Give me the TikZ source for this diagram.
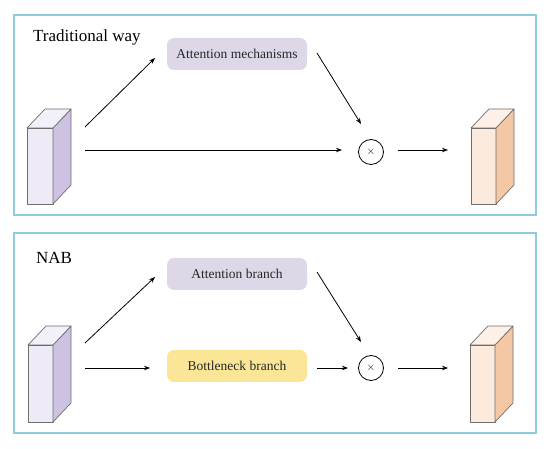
\documentclass[tikz,border=0pt]{standalone}
\usepackage{fontspec}
\setmainfont{Liberation Serif}
\usetikzlibrary{arrows.meta}
\definecolor{framec}{RGB}{140,205,220}
\definecolor{lavbox}{RGB}{222,215,232}
\definecolor{yelbox}{RGB}{250,230,150}
\definecolor{cubeLf}{RGB}{238,235,246}
\definecolor{cubeLs}{RGB}{205,194,225}
\definecolor{cubeLt}{RGB}{242,240,248}
\definecolor{cubeRf}{RGB}{252,234,220}
\definecolor{cubeRs}{RGB}{245,200,165}
\definecolor{cubeRt}{RGB}{253,240,230}
\definecolor{edgec}{RGB}{110,110,110}
\tikzset{
  panel/.style={draw=framec,line width=1.2pt},
  boxnode/.style={rounded corners=7pt,minimum width=140pt,minimum height=32pt,inner sep=0pt,font=\fontsize{13.5}{15}\selectfont,text=black!85},
  multnode/.style={circle,draw,line width=0.8pt,minimum size=25pt,inner sep=0pt,font=\fontsize{11}{12}\selectfont},
  arr/.style={line width=0.8pt,-{Stealth[length=6pt,width=4.5pt]}},
  titletext/.style={font=\fontsize{17}{19}\selectfont,anchor=west,inner sep=0pt},
  cubeedge/.style={draw=edgec,line width=0.7pt,line join=round}
}
\newcommand{\mycube}[7]{% x0 y0 x1 y1 front side top
  \filldraw[cubeedge,fill=#5] (#1,#2) rectangle (#3,#4);
  \filldraw[cubeedge,fill=#6] (#3,#2) -- ++(18,-19) -- ++(0,#4-#2) -- (#3,#4) -- cycle;
  \filldraw[cubeedge,fill=#7] (#1,#2) -- ++(18,-19) -- ++(#3-#1,0) -- (#3,#2) -- cycle;
}
\begin{document}
\begin{tikzpicture}[x=1pt,y=-1pt]
\useasboundingbox (0,0) rectangle (550,449);
% panels
\draw[panel] (14,15) rectangle (536,215);
\draw[panel] (14,233) rectangle (536,433);
\node[titletext] (t1) at (33,37) {Traditional way};
\node[titletext] (t2) at (36,258) {NAB};
% cubes
\mycube{27}{128}{53}{204}{cubeLf}{cubeLs}{cubeLt}
\mycube{471}{128}{496}{204}{cubeRf}{cubeRs}{cubeRt}
\mycube{28}{345}{53}{422}{cubeLf}{cubeLs}{cubeLt}
\mycube{470}{345}{495}{422}{cubeRf}{cubeRs}{cubeRt}
% top panel
\node[boxnode,fill=lavbox] (att1) at (237,54) {Attention mechanisms};
\node[multnode] (m1) at (371,152) {$\times$};
\coordinate (in1a) at (85,127);
\coordinate (in1b) at (85,150);
\coordinate (a1e) at (155,58);
\coordinate (a1o) at (317,53);
\coordinate (m1in) at (342,150);
\coordinate (m1top) at (361,124);
\coordinate (m1out) at (398,150);
\coordinate (out1) at (448,150);
\draw[arr] (in1a) -- (a1e);
\draw[arr] (in1b) -- (m1in);
\draw[arr] (a1o) -- (m1top);
\draw[arr] (m1out) -- (out1);
% bottom panel
\node[boxnode,fill=lavbox] (att2) at (237,274) {Attention branch};
\node[boxnode,fill=yelbox] (bot2) at (237,366) {Bottleneck branch};
\node[multnode] (m2) at (371,368) {$\times$};
\coordinate (in2a) at (85,343);
\coordinate (in2b) at (85,368);
\coordinate (a2e) at (155,277);
\coordinate (b2e) at (150,368);
\coordinate (b2o) at (317,368);
\coordinate (m2in) at (348,368);
\coordinate (a2o) at (317,272);
\coordinate (m2top) at (361,342);
\coordinate (m2out) at (398,368);
\coordinate (out2) at (448,368);
\draw[arr] (in2a) -- (a2e);
\draw[arr] (in2b) -- (b2e);
\draw[arr] (b2o) -- (m2in);
\draw[arr] (a2o) -- (m2top);
\draw[arr] (m2out) -- (out2);
\end{tikzpicture}
\end{document}
